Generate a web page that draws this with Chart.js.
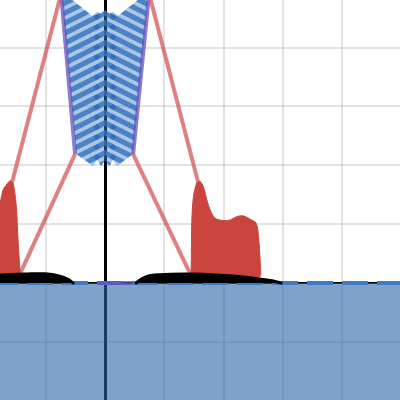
<!DOCTYPE html>
<html><head><meta charset="utf-8">
<script src="https://cdn.jsdelivr.net/npm/chart.js@4"></script>
<style>html,body{margin:0;padding:0;background:#fff}canvas{display:block}</style>
</head><body>
<canvas id="c" width="400" height="400"></canvas>
<script>
// axis ranges (grid every 1 unit)
const xRange = [-1.775, 4.98];
const yRange = [-1.99, 4.81];

// baseline region (y = 0, filled downward)
const baseX = [-2.5, 5.5];
const baseY = [0, 0];

// light red / purple polylines
const leftLineX  = [-1.453, -0.507, -0.743, -1.605];
const leftLineY  = [ 0.119,  2.190,  4.915,  1.582];
const rightLineX = [ 1.453,  0.473,  0.743,  1.605];
const rightLineY = [ 0.119,  2.190,  4.915,  1.582];

// hatched band between the purple edges
const bandX = [-0.743,-0.557,-0.220,-0.135,-0.068,0,0.068,0.135,0.220,0.557,0.743,0.473,0.203,0.135,0.068,0,-0.068,-0.135,-0.203,-0.490];
const bandY = [ 4.949, 4.813, 4.541, 4.610, 4.580,4.640,4.580,4.610,4.541,4.813,4.949,2.194,1.990,2.092,1.990,2.092,1.990,2.092,1.990,2.194];

// purple segment on the baseline
const purpleX = [-0.118, 0.456];
const purpleY = [0, 0];

// red humps
const leftHumpX = [-1.90,-1.774,-1.723,-1.655,-1.605,-1.554,-1.520,-1.495,-1.470,-1.444,-1.427];
const leftHumpY = [ 1.00, 1.361, 1.582, 1.684, 1.735, 1.684, 1.497, 1.241, 0.731, 0.306, 0.119];
const rightHumpX = [1.448,1.453,1.465,1.492,1.549,1.605,1.660,1.718,1.774,1.858,1.998,2.111,2.225,2.336,2.449,2.551,2.590,2.618,2.630];
const rightHumpY = [0.136,0.221,1.071,1.468,1.701,1.723,1.638,1.412,1.241,1.100,1.060,1.071,1.128,1.139,1.083,1.015,0.787,0.391,0.136];

// black curves
const blackLeftX  = [-1.86,-1.351,-1.014,-0.760,-0.625,-0.540];
const blackLeftY  = [ 0.13, 0.150, 0.155, 0.115, 0.060, 0.000];
const blackRightX = [0.524,0.676,0.929,1.436,1.943,2.449,2.787,2.973];
const blackRightY = [0.000,0.100,0.140,0.150,0.130,0.090,0.040,0.000];

const pts = (xs, ys) => xs.map((x, i) => ({x, y: ys[i]}));

// chevron hatch pattern
function makePattern() {
  const t = document.createElement('canvas');
  t.width = 210; t.height = 10;
  const g = t.getContext('2d');
  g.fillStyle = 'rgba(70,130,200,0.45)';
  g.fillRect(0, 0, 210, 10);
  g.strokeStyle = 'rgba(50,115,190,0.8)';
  g.lineWidth = 5.2;
  g.beginPath();
  for (let k = -8; k <= 8; k++) {
    const c = k * 10 + 3;
    g.moveTo(0, c + 52.5); g.lineTo(105, c); g.lineTo(210, c + 52.5);
  }
  g.stroke();
  g.fillStyle = 'rgba(35,95,170,0.6)';
  for (let k = -1; k <= 1; k++) {
    const c = k * 10 + 3;
    [97, 113].forEach(x => { g.beginPath(); g.arc(x, c + 4, 2.6, 0, 2 * Math.PI); g.fill(); });
  }
  return g.createPattern(t, 'repeat');
}
const hatch = makePattern();

const RED_LINE = 'rgba(210,80,80,0.72)';
const PURPLE = 'rgba(100,80,190,0.75)';
const RED_FILL = '#c9453e';

new Chart(document.getElementById('c'), {
  type: 'scatter',
  data: {
    datasets: [
      { data: pts(baseX, baseY), showLine: true, order: 10, fill: 'start',
        backgroundColor: 'rgba(40,100,170,0.6)', borderColor: '#3d7cc2', borderWidth: 4,
        borderDash: [26, 9], pointRadius: 0 },
      { data: pts(bandX, bandY), showLine: true, order: 9, fill: 'shape',
        backgroundColor: hatch, borderColor: 'rgba(0,0,0,0)', borderWidth: 0, pointRadius: 0 },
      { data: pts(leftLineX, leftLineY), showLine: true, order: 8, fill: false,
        borderColor: RED_LINE, borderWidth: 4, pointRadius: 0,
        segment: { borderColor: c => c.p0DataIndex === 1 ? PURPLE : undefined } },
      { data: pts(rightLineX, rightLineY), showLine: true, order: 8, fill: false,
        borderColor: RED_LINE, borderWidth: 4, pointRadius: 0,
        segment: { borderColor: c => c.p0DataIndex === 1 ? PURPLE : undefined } },
      { data: pts(leftHumpX, leftHumpY), showLine: true, order: 7, fill: {value: 0.1},
        backgroundColor: RED_FILL, borderColor: RED_FILL, borderWidth: 1, tension: 0.3, pointRadius: 0 },
      { data: pts(rightHumpX, rightHumpY), showLine: true, order: 7, fill: {value: 0.1},
        backgroundColor: RED_FILL, borderColor: RED_FILL, borderWidth: 1, tension: 0.3, pointRadius: 0 },
      { data: pts(purpleX, purpleY), showLine: true, order: 6, fill: false,
        borderColor: PURPLE, borderWidth: 4, pointRadius: 0 },
      { data: pts(blackLeftX, blackLeftY), showLine: true, order: 5, fill: 'origin',
        backgroundColor: '#000', borderColor: '#000', borderWidth: 3, borderCapStyle: 'round', tension: 0.4, pointRadius: 0 },
      { data: pts(blackRightX, blackRightY), showLine: true, order: 5, fill: 'origin',
        backgroundColor: '#000', borderColor: '#000', borderWidth: 3, borderCapStyle: 'round', tension: 0.4, pointRadius: 0 }
    ]
  },
  options: {
    responsive: false,
    animation: false,
    layout: { padding: 0 },
    plugins: { legend: { display: false }, tooltip: { enabled: false } },
    scales: {
      x: {
        type: 'linear', min: xRange[0], max: xRange[1],
        ticks: { display: false, stepSize: 1, includeBounds: false },
        border: { display: false },
        grid: { drawTicks: false, tickLength: 0,
          color: c => c.tick && c.tick.value === 0 ? '#000' : 'rgba(0,0,0,0.11)',
          lineWidth: c => c.tick && c.tick.value === 0 ? 3 : 2 },
        afterFit: s => { s.height = 0; }
      },
      y: {
        type: 'linear', min: yRange[0], max: yRange[1],
        ticks: { display: false, stepSize: 1, includeBounds: false },
        border: { display: false },
        grid: { drawTicks: false, tickLength: 0,
          color: c => c.tick && c.tick.value === 0 ? '#000' : 'rgba(0,0,0,0.11)',
          lineWidth: 2 },
        afterFit: s => { s.width = 0; }
      }
    }
  }
});
</script>
</body></html>
